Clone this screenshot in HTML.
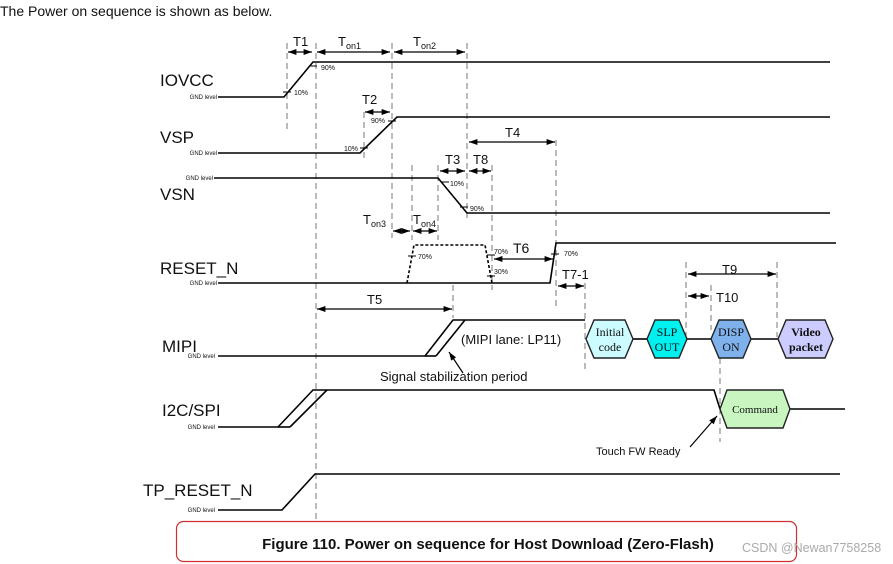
<!DOCTYPE html>
<html><head><meta charset="utf-8"><style>
body{margin:0;background:#fff;width:893px;height:564px;overflow:hidden}
svg{position:absolute;left:0;top:0}
text{font-family:"Liberation Sans",sans-serif;fill:#111}
</style></head><body>
<svg width="893" height="564" viewBox="0 0 893 564">
<defs>
<marker id="a" viewBox="0 0 10 10" refX="10" refY="5" markerWidth="7" markerHeight="7" orient="auto-start-reverse"><path d="M0,1.5 L10,5 L0,8.5z" fill="#000"/></marker>
</defs>
<text x="0" y="16" font-size="14">The Power on sequence is shown as below.</text>
<g stroke="#777" stroke-width="1" stroke-dasharray="6,4" fill="none">
<line x1="287" y1="43" x2="287" y2="130"/>
<line x1="316" y1="43" x2="316" y2="520"/>
<line x1="392" y1="43" x2="392" y2="238"/>
<line x1="467" y1="43" x2="467" y2="218"/>
<line x1="364" y1="112" x2="364" y2="158"/>
<line x1="412" y1="165" x2="412" y2="240"/>
<line x1="438" y1="165" x2="438" y2="240"/>
<line x1="492" y1="165" x2="492" y2="290"/>
<line x1="556" y1="140" x2="556" y2="310"/>
<line x1="453" y1="285" x2="453" y2="318"/>
<line x1="585" y1="283" x2="585" y2="372"/>
<line x1="686" y1="262" x2="686" y2="337"/>
<line x1="711" y1="285" x2="711" y2="330"/>
<line x1="777" y1="262" x2="777" y2="337"/>
<line x1="720" y1="358" x2="720" y2="442"/>
</g>
<g stroke="#000" stroke-width="1.6" fill="none">
<polyline points="218,97 284,97 313,62 830,62"/>
<polyline points="218,153 360,153 397,117 830,117"/>
<polyline points="214,178 438,178 467,213 830,213"/>
<polyline points="218,283 550,283 556,243 836,243"/>
<polyline points="218,356 425,356 453,320 585,320"/>
<line x1="436" y1="356" x2="465" y2="320"/>
<line x1="425" y1="356" x2="436" y2="356"/>
<polyline points="218,427 278,427 313,390 714,390 720,409"/>
<line x1="290" y1="427" x2="327" y2="390"/>
<line x1="278" y1="427" x2="290" y2="427"/>
<polyline points="218,510 282,510 315,474 840,474"/>
<line x1="632" y1="339" x2="647" y2="339"/>
<line x1="686" y1="339" x2="711" y2="339"/>
<line x1="751" y1="339" x2="778" y2="339"/>
<line x1="790" y1="409" x2="845" y2="409"/>
</g>
<polyline points="407,283 414,245 485,245 492,283" stroke="#000" stroke-width="1.6" stroke-dasharray="3,2" fill="none"/>
<g stroke="#000" stroke-width="1">
<line x1="283" y1="92" x2="291" y2="92"/><line x1="309" y1="66" x2="317" y2="66"/>
<line x1="360" y1="148" x2="368" y2="148"/><line x1="388" y1="121" x2="396" y2="121"/>
<line x1="441" y1="182" x2="449" y2="182"/><line x1="460" y1="207" x2="468" y2="207"/>
<line x1="408" y1="256" x2="416" y2="256"/><line x1="487" y1="255" x2="495" y2="255"/>
<line x1="487" y1="276" x2="495" y2="276"/><line x1="551" y1="254" x2="559" y2="254"/>
</g>
<g stroke="#000" stroke-width="1.2" marker-start="url(#a)" marker-end="url(#a)">
<line x1="288" y1="52" x2="312" y2="52"/>
<line x1="317" y1="52" x2="390" y2="52"/>
<line x1="394" y1="52" x2="465" y2="52"/>
<line x1="365" y1="112" x2="390" y2="112"/>
<line x1="469" y1="142" x2="555" y2="142"/>
<line x1="440" y1="171" x2="465" y2="171"/>
<line x1="469" y1="171" x2="491" y2="171"/>
<line x1="393" y1="231" x2="410" y2="231"/>
<line x1="413" y1="231" x2="437" y2="231"/>
<line x1="494" y1="259" x2="553" y2="259"/>
<line x1="558" y1="286" x2="584" y2="286"/>
<line x1="317" y1="309" x2="452" y2="309"/>
<line x1="688" y1="274" x2="776" y2="274"/>
<line x1="688" y1="296" x2="709" y2="296"/>
</g>
<g stroke="#000" stroke-width="1.2" marker-end="url(#a)">
<line x1="463" y1="373" x2="449" y2="352"/>
<line x1="690" y1="447" x2="717" y2="416"/>
</g>
<g stroke="#222" stroke-width="1.4">
<polygon points="586,339 594,320 625,320 633,339 625,358 594,358" fill="#ccfcff"/>
<polygon points="647,339 655,320 679,320 687,339 679,358 655,358" fill="#00f0f0"/>
<polygon points="711,339 719,320 743,320 751,339 743,358 719,358" fill="#7fb2ec"/>
<polygon points="778,339 786,320 825,320 833,339 825,358 786,358" fill="#ccccff"/>
<polygon points="720,409 727,390 783,390 790,409 783,428 727,428" fill="#c8f5c0"/>
</g>
<g font-size="12" text-anchor="middle">
<text x="610" y="336" style="font-family:'Liberation Serif',serif">Initial</text><text x="610" y="351" style="font-family:'Liberation Serif',serif">code</text>
<text x="667" y="336" style="font-family:'Liberation Serif',serif">SLP</text><text x="667" y="351" style="font-family:'Liberation Serif',serif">OUT</text>
<text x="731" y="336" style="font-family:'Liberation Serif',serif">DISP</text><text x="731" y="351" style="font-family:'Liberation Serif',serif">ON</text>
<text x="806" y="336" font-weight="bold" style="font-family:'Liberation Serif',serif">Video</text><text x="806" y="351" font-weight="bold" style="font-family:'Liberation Serif',serif">packet</text>
<text x="755" y="413" font-size="11" style="font-family:'Liberation Serif',serif">Command</text>
</g>
<g font-size="17">
<text x="160" y="86">IOVCC</text>
<text x="160" y="143">VSP</text>
<text x="160" y="200">VSN</text>
<text x="160" y="274">RESET_N</text>
<text x="162" y="352">MIPI</text>
<text x="162" y="416">I2C/SPI</text>
<text x="143" y="496">TP_RESET_N</text>
</g>
<g font-size="6" text-anchor="end">
<text x="217" y="99">GND level</text><text x="217" y="155">GND level</text>
<text x="213" y="180">GND level</text><text x="217" y="285">GND level</text>
<text x="215" y="358">GND level</text><text x="215" y="429">GND level</text>
<text x="215" y="512">GND level</text>
</g>
<g font-size="7">
<text x="294" y="95">10%</text><text x="321" y="70">90%</text>
<text x="344" y="151">10%</text><text x="371" y="123">90%</text>
<text x="450" y="186">10%</text><text x="470" y="211">90%</text>
<text x="418" y="259">70%</text><text x="494" y="254">70%</text>
<text x="494" y="274">30%</text><text x="564" y="256">70%</text>
</g>
<g font-size="13">
<text x="293" y="46">T1</text>
<text x="338" y="46">T<tspan font-size="9" dy="3">on1</tspan></text>
<text x="413" y="46">T<tspan font-size="9" dy="3">on2</tspan></text>
<text x="362" y="104">T2</text>
<text x="505" y="137">T4</text>
<text x="445" y="164">T3</text><text x="473" y="164">T8</text>
<text x="363" y="224">T<tspan font-size="9" dy="3">on3</tspan></text>
<text x="413" y="224">T<tspan font-size="9" dy="3">on4</tspan></text>
<text x="513" y="253" font-size="14">T6</text>
<text x="562" y="279">T7-1</text>
<text x="367" y="304">T5</text>
<text x="722" y="274">T9</text>
<text x="716" y="302">T10</text>
<text x="461" y="344">(MIPI lane: LP11)</text>
<text x="380" y="381">Signal stabilization period</text>
<text x="596" y="455" font-size="11">Touch FW Ready</text>
</g>
<rect x="176.5" y="521.5" width="620" height="40" rx="7" fill="none" stroke="#d03030" stroke-width="1.2"/>
<text x="488" y="549" font-size="15" font-weight="bold" text-anchor="middle">Figure 110. Power on sequence for Host Download (Zero-Flash)</text>
<text x="742" y="552" font-size="12.5" style="fill:#aaa">CSDN @Newan7758258</text>
</svg>
</body></html>
